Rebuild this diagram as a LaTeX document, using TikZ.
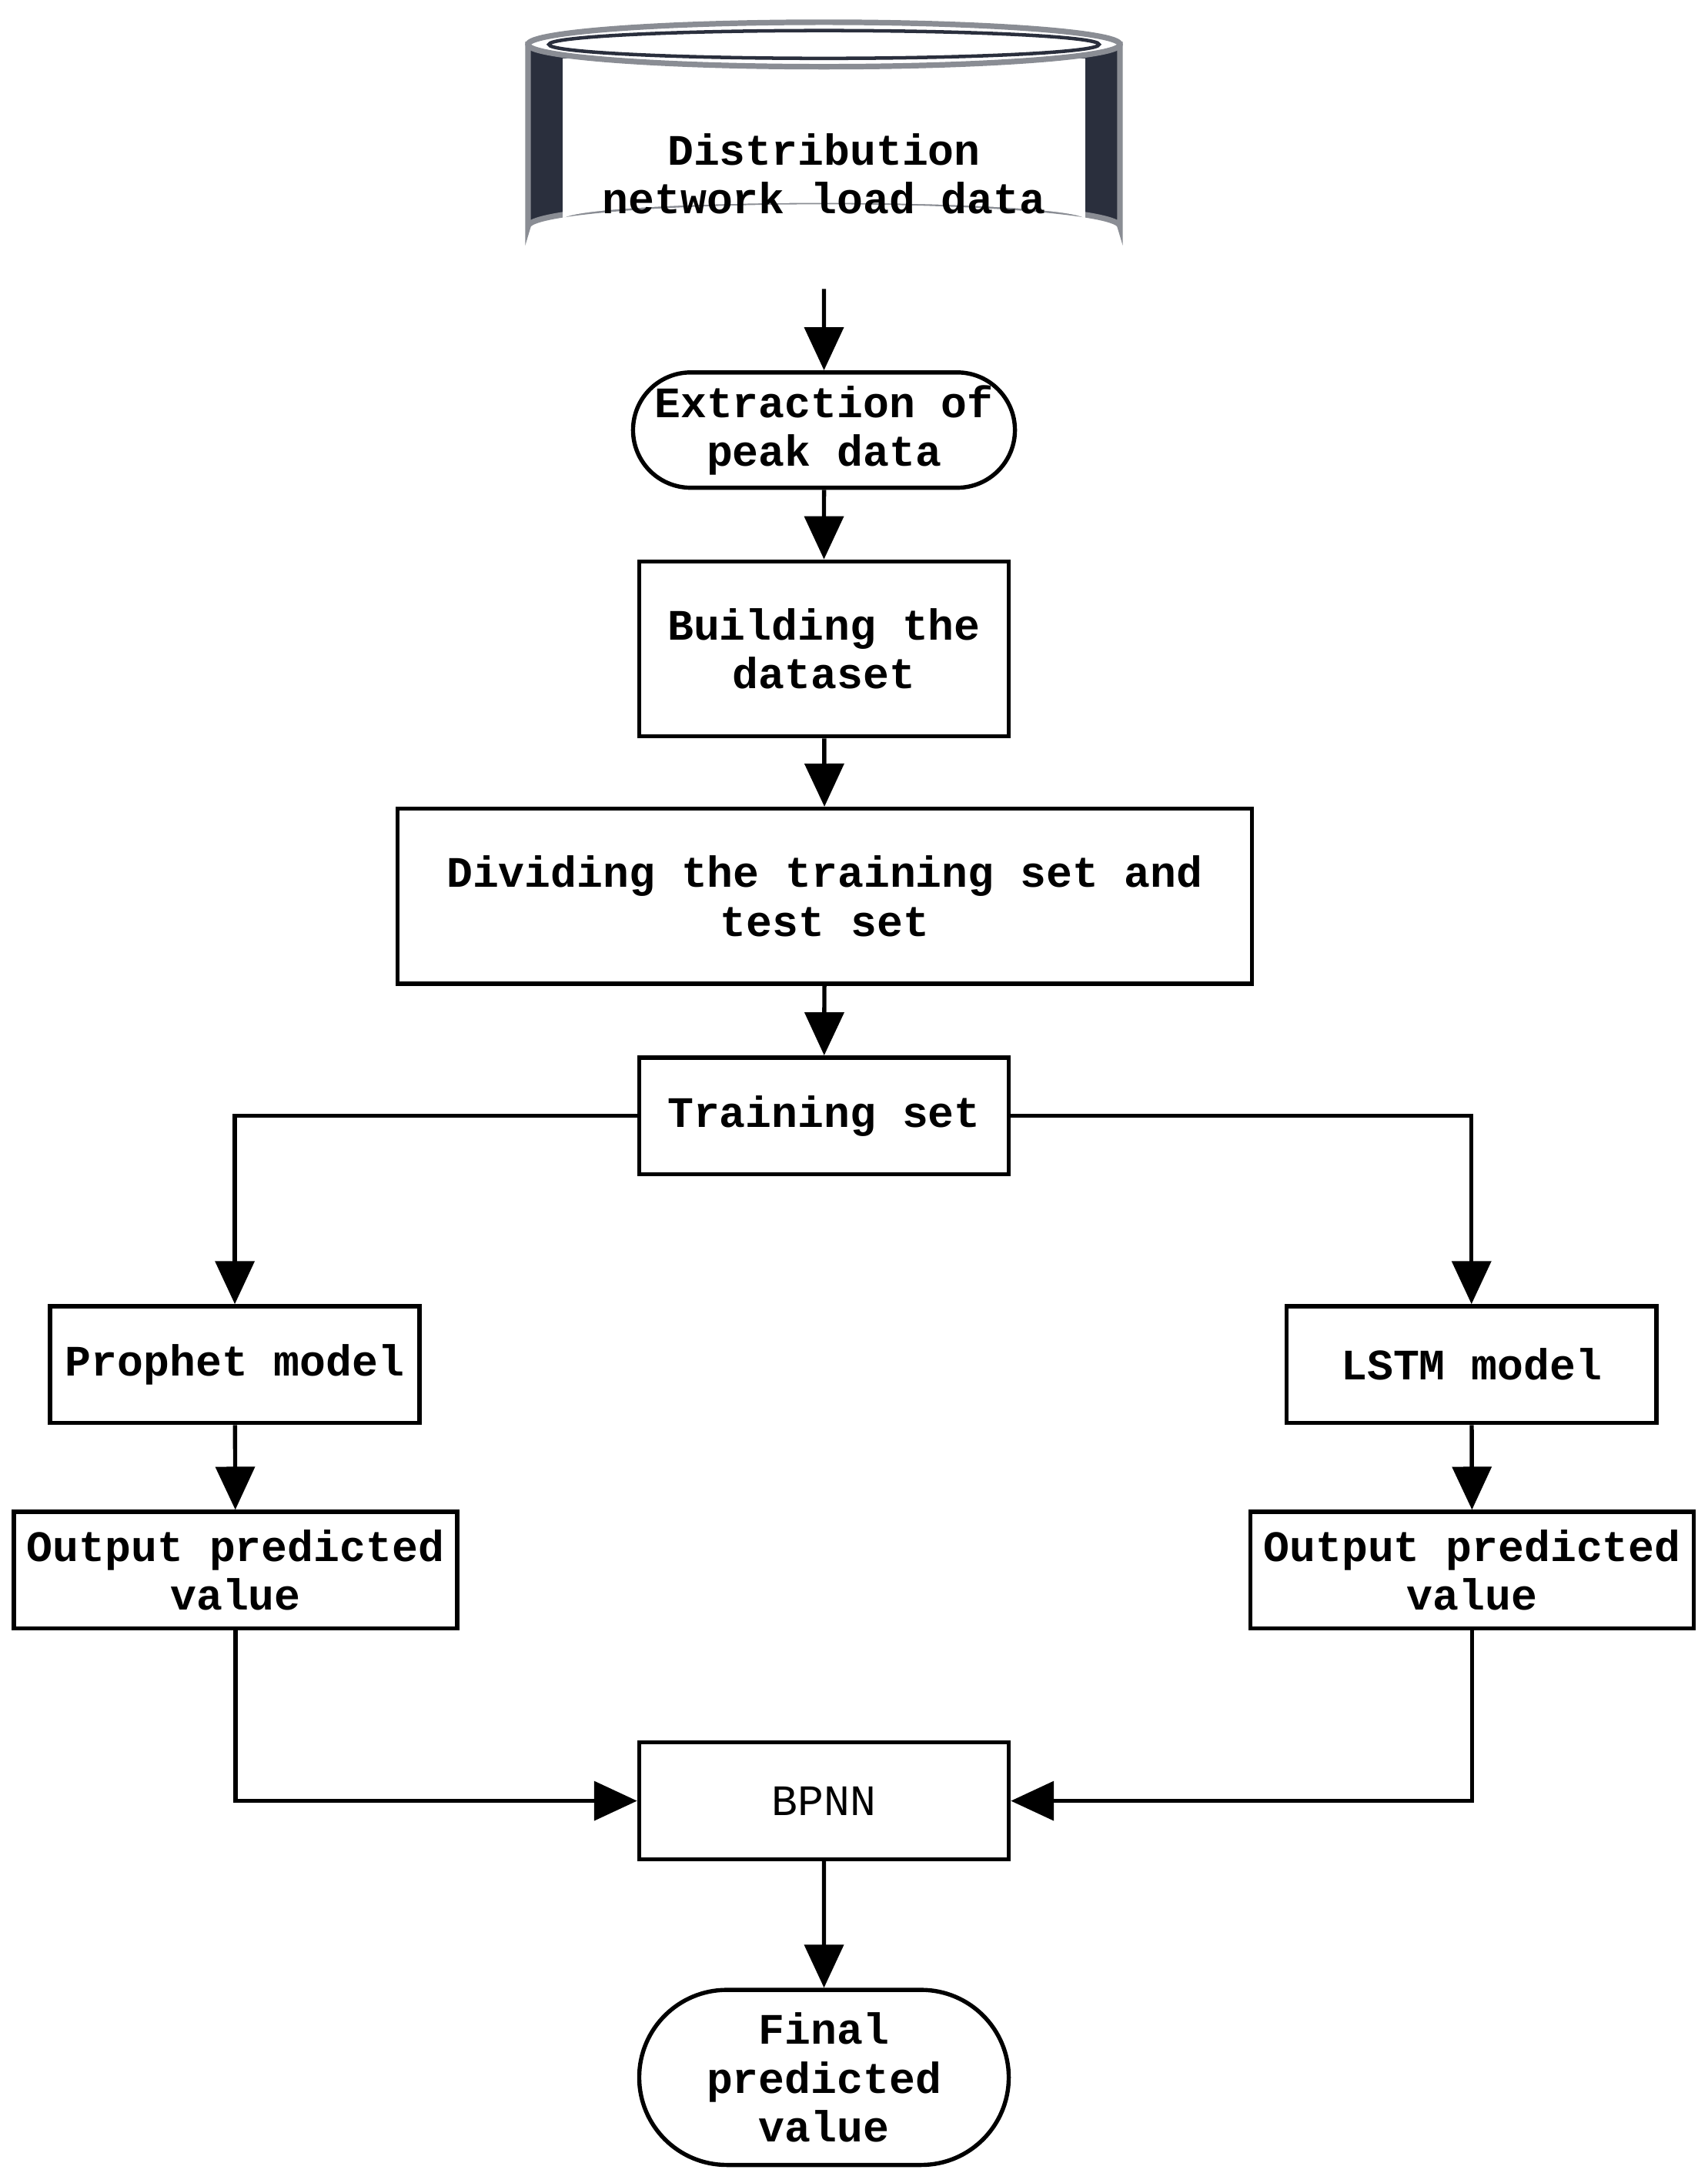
\documentclass[tikz,border=0pt]{standalone}
\usepackage{fontspec}
\setmainfont{Liberation Mono}
\usetikzlibrary{shapes.misc,arrows.meta}
\definecolor{cyldark}{HTML}{2A2F3D}
\definecolor{cylgray}{HTML}{8A8D94}
\begin{document}
\begin{tikzpicture}[x=0.02cm,y=-0.02cm,
  line width=0.06cm,
  txt/.style={font=\fontsize{17.8}{19.9}\selectfont\bfseries,align=center,inner sep=0pt},
  box/.style={txt,draw,rectangle},
  term/.style={txt,draw,rounded rectangle},
  arr/.style={-{Triangle[length=0.62cm,width=0.56cm]}}]
\useasboundingbox (0,0) rectangle (1229,1571);
% data cylinder
\fill[cyldark,draw=cylgray,line width=0.08cm] (380,32) -- (380,163) arc[start angle=180,end angle=360,x radius=213,y radius=18] -- (806,32) -- cycle;
\fill[white] (405,42) -- (405,158) arc[start angle=180,end angle=360,x radius=188,y radius=12] -- (781,42) -- cycle;
\draw[cylgray,fill=white,line width=0.08cm] (593,32) ellipse[x radius=213,y radius=16];
\draw[cyldark,fill=white,line width=0.05cm] (593,32) ellipse[x radius=198,y radius=10];
\node[txt] (data) at (593,125) {Distribution\\network load data};
\coordinate (dataout) at (593,208);
% nodes
\node[term,minimum width=5.32cm,minimum height=1.66cm] (ext) at (593,309.5) {Extraction of\\peak data};
\node[box,minimum width=5.32cm,minimum height=2.52cm] (build) at (593,467) {Building the\\dataset};
\node[box,minimum width=12.3cm,minimum height=2.52cm] (div) at (593.5,645) {Dividing the training set and\\test set};
\node[box,minimum width=5.32cm,minimum height=1.68cm] (train) at (593,803) {Training set};
\node[box,minimum width=5.32cm,minimum height=1.68cm] (proph) at (169,982) {Prophet model};
\node[box,minimum width=5.32cm,minimum height=1.68cm] (lstm) at (1059,982) {LSTM model};
\node[box,minimum width=6.38cm,minimum height=1.68cm] (outl) at (169.5,1130) {Output predicted\\value};
\node[box,minimum width=6.38cm,minimum height=1.68cm] (outr) at (1059.5,1130) {Output predicted\\value};
\node[box,minimum width=5.32cm,minimum height=1.68cm,font=\fontsize{17.8}{19.9}\selectfont] (bpnn) at (593,1296) {BPNN};
\node[term,minimum width=5.32cm,minimum height=2.52cm] (final) at (593,1495) {Final\\predicted\\value};
% connectors
\draw[arr] (dataout) -- (ext);
\draw[arr] (ext) -- (build);
\draw[arr] (build) -- (div);
\draw[arr] (div) -- (train);
\draw[arr] (train.west) -| (proph.north);
\draw[arr] (train.east) -| (lstm.north);
\draw[arr] (proph) -- (outl);
\draw[arr] (lstm) -- (outr);
\draw[arr] (outl.south) |- (bpnn.west);
\draw[arr] (outr.south) |- (bpnn.east);
\draw[arr] (bpnn) -- (final);
\end{tikzpicture}
\end{document}
